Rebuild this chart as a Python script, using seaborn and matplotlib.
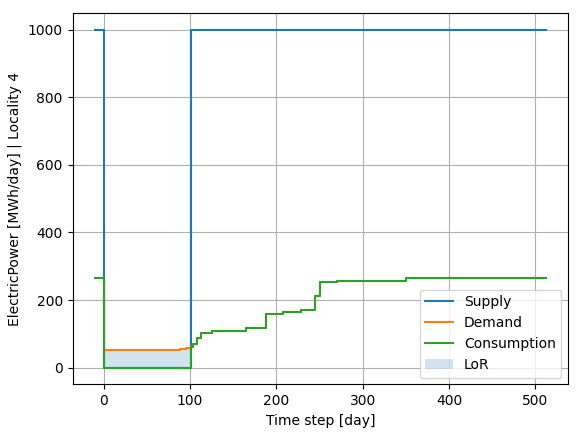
import numpy as np
import pandas as pd
import matplotlib
matplotlib.use("Agg")
import matplotlib.pyplot as plt
import seaborn as sns

# step breakpoints (day, value)
supply_t = [-10, 0, 101, 512]
supply_v = [1000, 0, 1000, 1000]
demand_t = [-10, 0, 88, 95, 101, 104, 108, 113, 125, 165, 188, 208, 228, 245, 250, 270, 350, 430, 512]
demand_v = [265, 52, 55, 58, 60, 71, 87, 103, 108, 118, 160, 165, 172, 212, 252, 255, 264, 266, 266]
cons_t = [-10, 0, 101, 104, 108, 113, 125, 165, 188, 208, 228, 245, 250, 270, 350, 430, 512]
cons_v = [265, 0, 60, 71, 87, 103, 108, 118, 160, 165, 172, 212, 252, 255, 264, 266, 266]
lor_t = [0, 88, 95, 101]
lor_top = [52, 55, 58, 58]

fig, ax = plt.subplots(figsize=(5.8, 4.32), dpi=100)
fig.subplots_adjust(left=0.125, right=0.98, bottom=0.11, top=0.97)
sns.lineplot(x=supply_t, y=supply_v, drawstyle="steps-post", ax=ax, label="Supply", color="C0")
sns.lineplot(x=demand_t, y=demand_v, drawstyle="steps-post", ax=ax, label="Demand", color="C1")
sns.lineplot(x=cons_t, y=cons_v, drawstyle="steps-post", ax=ax, label="Consumption", color="C2")
ax.fill_between(lor_t, 0, lor_top, step="post", alpha=0.2, color="C0", label="LoR", linewidth=0)
ax.set_xlabel("Time step [day]")
ax.set_ylabel("ElectricPower [MWh/day] | Locality 4")
ax.set_xticks([0, 100, 200, 300, 400, 500])
ax.set_yticks([0, 200, 400, 600, 800, 1000])
ax.grid(True)
ax.legend(loc="lower right")
fig.savefig("out.png")
